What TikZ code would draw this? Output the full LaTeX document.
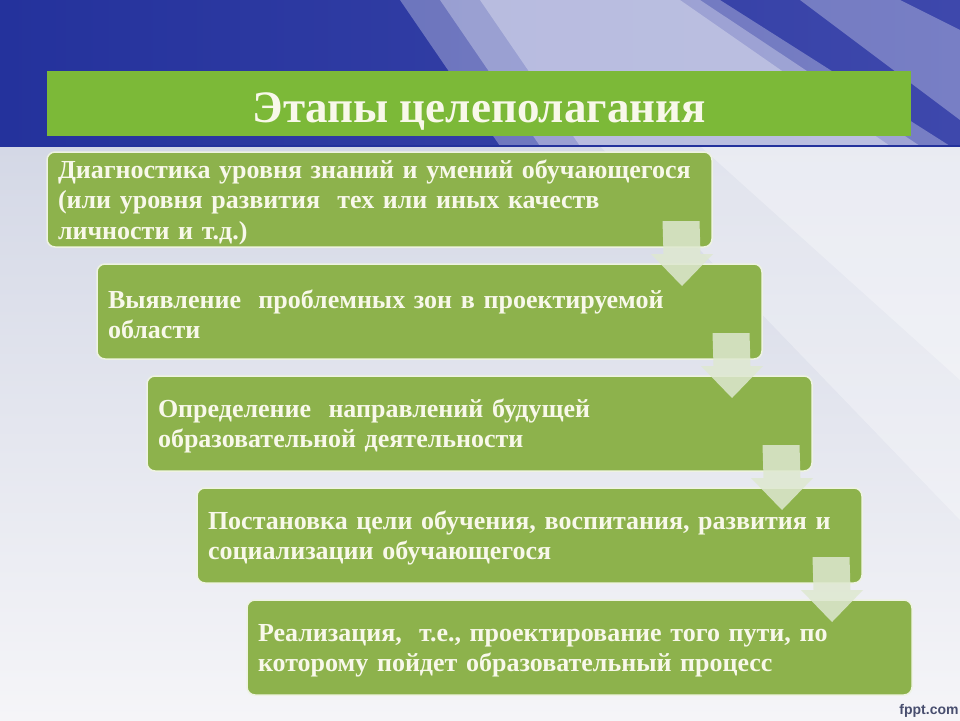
\documentclass[tikz,border=0pt]{standalone}
\usepackage{fontspec}
\setmainfont{Liberation Serif}
\setsansfont{Liberation Sans}
\usetikzlibrary{calc}
\definecolor{bgblue}{RGB}{36,50,156}
\definecolor{bgblueb}{RGB}{62,72,172}
\definecolor{bglow}{RGB}{212,216,230}
\definecolor{bgwhite}{RGB}{245,245,248}
\definecolor{titlegreen}{RGB}{124,185,56}
\definecolor{boxgreen}{RGB}{141,178,76}
\definecolor{boxline}{RGB}{238,243,226}
\definecolor{stagetext}{RGB}{248,248,234}
\definecolor{arrowfill}{RGB}{222,232,208}
\definecolor{logogray}{RGB}{72,78,110}
\tikzset{
  stagebox/.style={draw=boxline, line width=1.5pt, fill=boxgreen, rounded corners=8pt,
    anchor=north west, minimum width=665pt, minimum height=95pt, outer sep=0pt,
    inner xsep=11pt, inner ysep=1.5pt, text width=643pt, align=left, text=stagetext,
    execute at begin node={\rule{0pt}{24pt}},
    font=\bfseries\fontsize{26}{30.5}\selectfont},
  stagearrow/.style={fill=arrowfill, opacity=0.85},
  glare/.style={fill=white, opacity=0.3}
}
\begin{document}
\begin{tikzpicture}[x=1pt,y=-1pt]
\useasboundingbox (0,0) rectangle (960,720);
\shade[top color=bglow, bottom color=bgwhite] (0,146) rectangle (960,720);
\fill[glare] (600,146) -- (960,146) -- (960,520) -- cycle;
\fill[glare] (700,146) -- (960,146) -- (960,380) -- cycle;
\shade[left color=bgblue, right color=bgblueb] (0,0) rectangle (960,146);
\fill[glare] (400,0) -- (720,0) -- (950,146) -- (500,146) -- cycle;
\fill[glare] (440,0) -- (700,0) -- (920,146) -- (540,146) -- cycle;
\fill[glare] (480,0) -- (680,0) -- (890,146) -- (580,146) -- cycle;
\fill[glare] (800,0) -- (900,0) -- (960,30) -- (960,120) -- (880,60) -- cycle;
\draw[bgblue, line width=2pt] (0,146) -- (960,146);
\node[fill=titlegreen, anchor=north west, minimum width=864pt, minimum height=65pt, inner sep=0pt] (title) at (47,71) {};
\node[anchor=base, text=stagetext, font=\bfseries\fontsize{45}{50}\selectfont] (titletext) at (title.center |- 0,122) {Этапы целеполагания};
\node[stagebox] (s1) at (47,152) {Диагностика уровня знаний и умений обучающегося\\(или уровня развития\ \ тех или иных качеств\\личности и т.д.)};
\node[stagebox] (s2) at (97,264) {Выявление\ \ проблемных зон в проектируемой\\области};
\node[stagebox] (s3) at (147,376) {Определение\ \ направлений будущей\\образовательной деятельности};
\node[stagebox] (s4) at (197,488) {Постановка цели обучения, воспитания, развития и\\социализации обучающегося};
\node[stagebox] (s5) at (247,600) {Реализация,\ \ т.е., проектирование того пути, по\\которому пойдет образовательный процесс};
\foreach \a/\b in {s1/s2,s2/s3,s3/s4,s4/s5}
  \fill[stagearrow] ($(\a.south east)+(-49.5,-26)$) -- ($(\a.south east)+(-12.5,-26)$)
    -- ($(\b.north east)+(-61.5,-10)$) -- ($(\b.north east)+(-49,-10)$)
    -- ($(\b.north east)+(-80,22)$) -- ($(\b.north east)+(-111,-10)$)
    -- ($(\b.north east)+(-98.5,-10)$) -- cycle;
\node[text=logogray, font=\sffamily\bfseries\fontsize{14}{16}\selectfont] (logo) at (929,711) {fppt.com};
\end{tikzpicture}
\end{document}
